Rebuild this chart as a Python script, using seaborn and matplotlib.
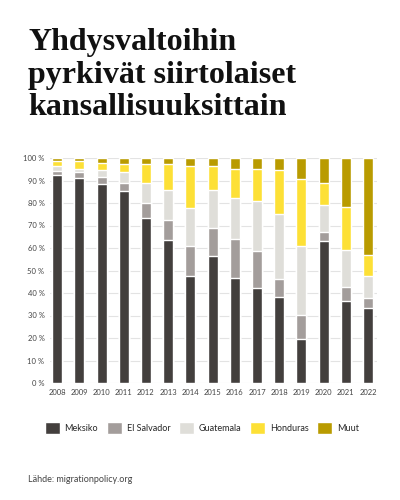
import pandas as pd
import matplotlib.pyplot as plt
import seaborn as sns
import numpy as np

years = [str(y) for y in range(2008, 2023)]
meksiko     = [92.6, 91.1, 88.4, 85.5, 73.3, 63.7, 47.4, 56.3, 46.7, 42.2, 38.2, 19.6, 63.0, 36.3, 33.3]
el_salvador = [1.8, 2.5, 3.0, 3.4, 6.7, 8.9, 13.6, 12.6, 17.3, 16.3, 8.2, 10.5, 4.1, 6.2, 4.5]
guatemala   = [1.9, 1.7, 3.4, 4.7, 8.9, 13.3, 16.8, 17.0, 18.2, 22.2, 28.9, 30.6, 11.9, 16.8, 9.9]
honduras    = [2.5, 3.2, 3.0, 3.7, 8.4, 11.4, 18.8, 10.7, 13.1, 14.6, 19.5, 30.1, 9.9, 18.8, 9.3]
muut        = [1.2, 1.5, 2.2, 2.7, 2.7, 2.7, 3.4, 3.4, 4.7, 4.7, 5.2, 9.2, 11.1, 21.9, 43.0]

series = ["Meksiko", "El Salvador", "Guatemala", "Honduras", "Muut"]
colors = ["#433f3d", "#a39d9b", "#dfded9", "#fde036", "#b99b00"]

df = pd.DataFrame({"year": years, "Meksiko": meksiko, "El Salvador": el_salvador,
                   "Guatemala": guatemala, "Honduras": honduras, "Muut": muut})
cum = df[series].cumsum(axis=1)
cum["year"] = df["year"]

sns.set_style("white")
fig = plt.figure(figsize=(4, 5), dpi=100)
ax = fig.add_axes([0.125, 0.234, 0.8175, 0.45])

# stacked bars: draw cumulative totals from the top series down
for name, col in reversed(list(zip(series, colors))):
    sns.barplot(data=cum, x="year", y=name, color=col, width=0.45,
                saturation=1, ax=ax, label=name, zorder=3)

ax.set_ylim(0, 100)
ax.set_xlim(-0.32, 14.4)
ax.set_yticks(np.arange(0, 101, 10))
ax.set_yticklabels([f"{v} %" for v in range(0, 101, 10)])
ax.yaxis.grid(True, color="#e3e3e3", linewidth=0.8, zorder=0)
ax.set_axisbelow(True)
sns.despine(left=True, bottom=True)
ax.set_xlabel("")
ax.set_ylabel("")
ax.tick_params(axis="both", length=0, labelsize=5.5, labelcolor="#444444", pad=4)
for lbl in ax.get_xticklabels() + ax.get_yticklabels():
    lbl.set_family("Lato")

handles, labels = ax.get_legend_handles_labels()
order = [labels.index(s) for s in series]
fig.legend([handles[i] for i in order], series, loc="center", bbox_to_anchor=(0.505, 0.144),
           ncol=5, frameon=False, handlelength=1.65, handleheight=1.6, handletextpad=0.5,
           columnspacing=1.0, prop={"family": "Lato", "size": 6.5})
if ax.get_legend() is not None:
    ax.get_legend().remove()

fig.text(0.07, 0.944, "Yhdysvaltoihin\npyrkivät siirtolaiset\nkansallisuuksittain",
         ha="left", va="top", fontsize=23, fontweight="bold", family="Liberation Serif",
         color="#111111", linespacing=1.17)
fig.text(0.07, 0.04, "Lähde: migrationpolicy.org", ha="left", va="center",
         fontsize=6.5, family="Lato", color="#444444")

fig.savefig("out.png", dpi=100)
